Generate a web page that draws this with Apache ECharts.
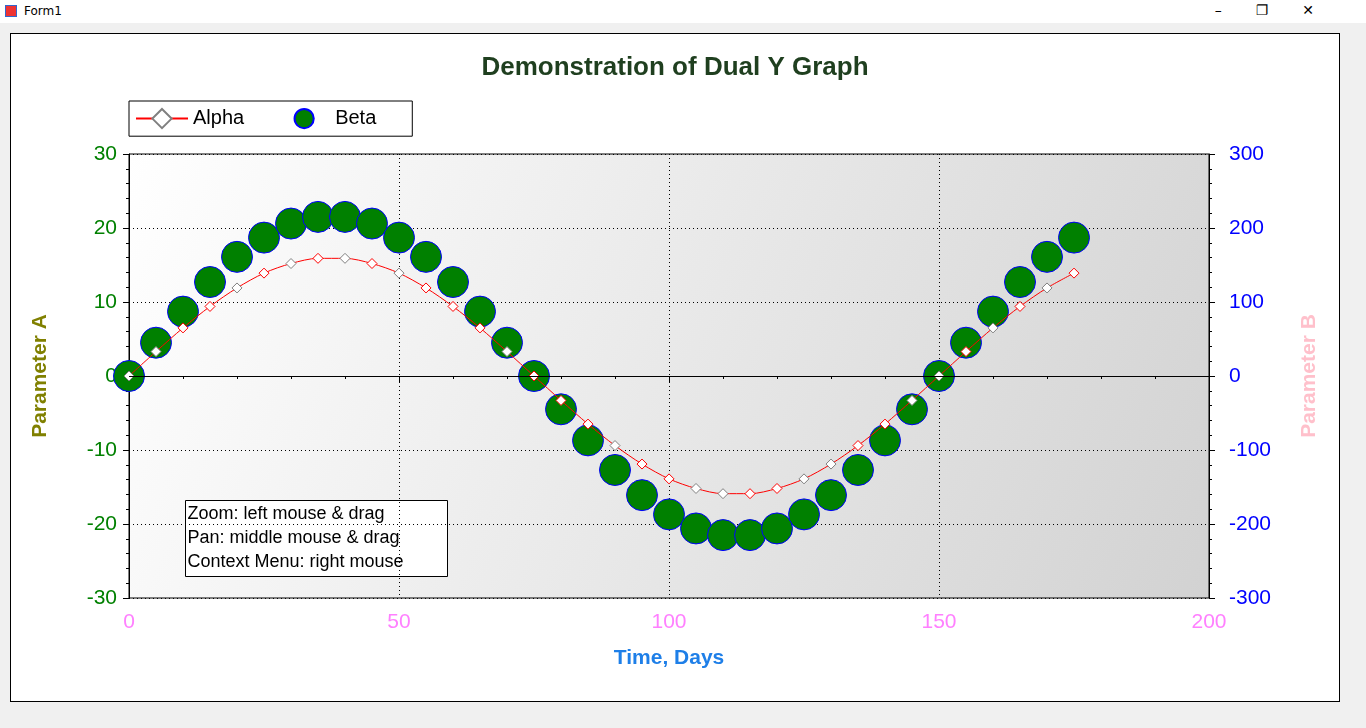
<!DOCTYPE html>
<html><head><meta charset="utf-8">
<script src="https://cdn.jsdelivr.net/npm/echarts@6/dist/echarts.min.js"></script>
<style>
body{margin:0;background:#f0f0f0;font-family:"Segoe UI","DejaVu Sans",sans-serif;width:1366px;height:728px;overflow:hidden;position:relative}
#bar{position:absolute;left:0;top:0;width:1366px;height:23px;background:#fff;font-size:12px}
#bar span{position:absolute;left:24px;top:4px}
#bar i{position:absolute;left:5px;top:5px;width:12px;height:12px;background:#e33;border:1px solid #36c;box-sizing:border-box}
#ctl{position:absolute;right:18px;top:2px;font-size:14px;letter-spacing:34px}
#chart{position:absolute;left:10px;top:33px;width:1328px;height:667px;border:1px solid #000;background:#fff}
</style></head><body>
<div id="bar"><i></i><span>Form1</span><div id="ctl">–❐✕</div></div>
<div id="chart"></div>
<script>
const days = [0,5,10,15,20,25,30,35,40,45,50,55,60,65,70,75,80,85,90,95,100,105,110,115,120,125,130,135,140,145,150,155,160,165,170,175];
const alpha = [0,3.3,6.5,9.4,11.9,13.9,15.2,15.9,15.9,15.2,13.9,11.9,9.4,6.5,3.3,0,-3.3,-6.5,-9.4,-11.9,-13.9,-15.2,-15.9,-15.9,-15.2,-13.9,-11.9,-9.4,-6.5,-3.3,0,3.3,6.5,9.4,11.9,13.9];
const beta = [0,45,87,127,161,187,206,215,215,206,187,161,127,87,45,0,-45,-87,-127,-161,-187,-206,-215,-215,-206,-187,-161,-127,-87,-45,0,45,87,127,161,187];
// 1 = white filled diamond, 0 = red outlined
const alphaWhite = [1,1,0,0,1,0,1,0,1,0,1,0,0,0,1,0,0,0,1,0,0,1,1,0,0,1,1,0,0,1,1,0,1,0,1,0];

const chart = echarts.init(document.getElementById('chart'));
const tick = {show:true,inside:false,length:6,lineStyle:{color:'#000'}};
const minor = {show:true,splitNumber:5,length:3,lineStyle:{color:'#000'}};
const split = {show:true,lineStyle:{color:'#000',type:[1,3],width:1}};
chart.setOption({
  animation:false,
  title:{text:'Demonstration of Dual Y Graph',left:'center',top:16,
    textStyle:{fontSize:26,fontWeight:'bold',color:'#1f3f1f',fontFamily:'Liberation Sans, Arial'}},
  legend:{left:118,top:67,itemGap:34,itemWidth:52,itemHeight:24,padding:[7,36,7,6],
    borderColor:'#000',borderWidth:1,
    textStyle:{fontSize:20,color:'#000',fontFamily:'Liberation Sans, Arial'},
    data:[{name:'Alpha',itemStyle:{borderColor:'#808080'}},{name:'Beta'}]},
  grid:{left:118,top:120,width:1080,height:444,show:true,borderColor:'#000',borderWidth:1,
    backgroundColor:new echarts.graphic.LinearGradient(0,0,1,1,[{offset:0,color:'#ffffff'},{offset:1,color:'#d2d2d2'}])},
  xAxis:{type:'value',min:0,max:200,interval:50,
    name:'Time, Days',nameLocation:'middle',nameGap:50,
    nameTextStyle:{fontSize:21,fontWeight:'bold',color:'#1e7fe8',fontFamily:'Liberation Sans, Arial'},
    axisLine:{lineStyle:{color:'#000'}},axisTick:tick,minorTick:minor,splitLine:split,
    axisLabel:{fontSize:21,color:'#ff80ff',margin:14,fontFamily:'Liberation Sans, Arial'}},
  yAxis:[
    {type:'value',min:-30,max:30,interval:10,
     name:'Parameter A',nameLocation:'middle',nameGap:78,
     nameTextStyle:{fontSize:21,fontWeight:'bold',color:'#808000',fontFamily:'Liberation Sans, Arial'},
     axisLine:{show:true,lineStyle:{color:'#000'}},axisTick:tick,minorTick:minor,splitLine:split,
     axisLabel:{fontSize:21,color:'#008000',margin:12,fontFamily:'Liberation Sans, Arial'}},
    {type:'value',min:-300,max:300,interval:100,
     name:'Parameter B',nameLocation:'middle',nameGap:90,nameRotate:90,
     nameTextStyle:{fontSize:21,fontWeight:'bold',color:'#ffc0cb',fontFamily:'Liberation Sans, Arial'},
     axisLine:{show:true,lineStyle:{color:'#000'}},axisTick:tick,minorTick:minor,splitLine:{show:false},
     axisLabel:{fontSize:21,color:'#0000ff',margin:20,fontFamily:'Liberation Sans, Arial'}}
  ],
  series:[
    {name:'Beta',type:'line',yAxisIndex:1,lineStyle:{width:0,opacity:0},symbol:'circle',symbolSize:31,
     itemStyle:{color:'#008000',borderColor:'#0000ff',borderWidth:1},
     data:days.map((d,i)=>[d,beta[i]]),z:3},
    {name:'Alpha',type:'line',yAxisIndex:0,smooth:0.3,symbol:'diamond',symbolSize:10,
     lineStyle:{color:'#ff0000',width:1},
     itemStyle:{color:'#fff',borderColor:'#ff0000',borderWidth:1},
     data:days.map((d,i)=>({value:[d,alpha[i]],itemStyle:{color:'#fff',borderColor:alphaWhite[i]?'#808080':'#ff0000'}})),
     markLine:{silent:true,symbol:'none',label:{show:false},lineStyle:{color:'#000',type:'solid',width:1},
       data:[{yAxis:0}]},z:4}
  ],
  graphic:[{type:'group',left:174,top:466,children:[
    {type:'rect',shape:{x:0,y:0,width:262,height:76},style:{fill:'#fff',stroke:'#000',lineWidth:1}},
    {type:'text',x:2,y:2,style:{text:'Zoom: left mouse & drag\nPan: middle mouse & drag\nContext Menu: right mouse',
      font:'18px Liberation Sans, Arial',lineHeight:24,fill:'#000'}}
  ]}]
});
</script>
</body></html>
